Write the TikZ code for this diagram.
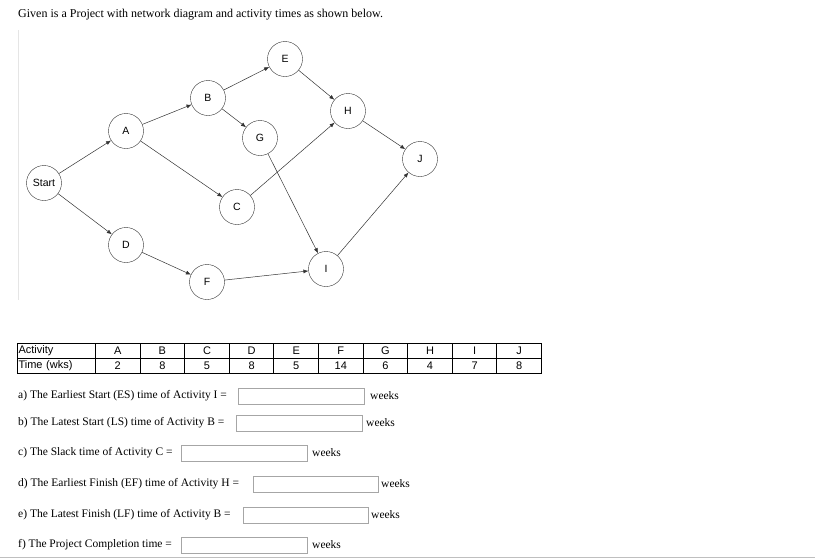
\documentclass[tikz,border=0pt]{standalone}
\usepackage{fontspec}
\setmainfont{Liberation Serif}
\newfontfamily\arial{Liberation Sans}
\usetikzlibrary{arrows.meta}
\begin{document}
\begin{tikzpicture}[x=1pt,y=-1pt,
  act/.style={circle,draw=black!80,minimum size=35pt,inner sep=0pt,font=\arial\fontsize{10.5}{12}\selectfont},
  arr/.style={-{Latex[length=5pt,width=4pt]},line width=0.5pt,draw=black!80},
  cell/.style={draw,line width=1pt,minimum height=15pt,inner sep=0pt,font=\arial\fontsize{11}{12}\selectfont},
  q/.style={anchor=west,font=\fontsize{11.5}{13}\selectfont,inner sep=0pt},
  inbox/.style={draw=gray!70,minimum height=16pt,inner sep=0pt,anchor=west}]
\useasboundingbox (0,0) rectangle (815,560);
\draw[gray!20] (18,30) -- (18,300);
\draw[gray!50] (0,557) -- (815,557);
\node[q,font=\fontsize{12}{14}\selectfont] (title) at (18,15) {Given is a Project with network diagram and activity times as shown below.};
\node[act] (S) at (44,183) {Start};
\node[act] (A) at (126,131) {A};
\node[act] (B) at (208,98) {B};
\node[act] (E) at (285,59) {E};
\node[act] (G) at (260,138) {G};
\node[act] (H) at (348,111) {H};
\node[act] (C) at (237,207) {C};
\node[act] (J) at (420,159) {J};
\node[act] (D) at (126,245) {D};
\node[act] (F) at (207,282) {F};
\node[act] (I) at (326,269) {I};
\foreach \a/\b in {S/A,S/D,A/B,A/C,B/E,B/G,E/H,C/H,G/I,D/F,F/I,H/J,I/J}
  \draw[arr] (\a) -- (\b);
% table
\node[cell,minimum width=78pt,anchor=north west,text width=76pt,align=left] (ta) at (17,343) {Activity};
\node[cell,minimum width=78pt,anchor=north west,text width=76pt,align=left] (tt) at (17,358) {Time (wks)};
\foreach \l/\t [count=\i from 0] in {A/2,B/8,C/5,D/8,E/5,F/14,G/6,H/4,I/7,J/8}{
  \node[cell,minimum width=44.6pt,anchor=north west] (a\i) at ({95+44.6*\i},343) {\l};
  \node[cell,minimum width=44.6pt,anchor=north west] (t\i) at ({95+44.6*\i},358) {\t};
}
% questions
\node[q] (qa) at (18,396) {a) The Earliest Start (ES) time of Activity I =};
\node[inbox,minimum width=126pt] (ba) at (238,396) {};
\node[q] (wa) at (370,396) {weeks};
\node[q] (qb) at (18,423) {b) The Latest Start (LS) time of Activity B =};
\node[inbox,minimum width=126pt] (bb) at (236,423) {};
\node[q] (wb) at (366,423) {weeks};
\node[q] (qc) at (18,453) {c) The Slack time of Activity C =};
\node[inbox,minimum width=126pt] (bc) at (181,453) {};
\node[q] (wc) at (312,453) {weeks};
\node[q] (qd) at (18,484) {d) The Earliest Finish (EF) time of Activity H =};
\node[inbox,minimum width=125pt] (bd) at (253,484) {};
\node[q] (wd) at (381,484) {weeks};
\node[q] (qe) at (18,515) {e) The Latest Finish (LF) time of Activity B =};
\node[inbox,minimum width=125pt] (be) at (243,515) {};
\node[q] (we) at (371,515) {weeks};
\node[q] (qf) at (18,545) {f) The Project Completion time =};
\node[inbox,minimum width=126pt] (bf) at (181,545) {};
\node[q] (wf) at (312,545) {weeks};
\end{tikzpicture}
\end{document}
